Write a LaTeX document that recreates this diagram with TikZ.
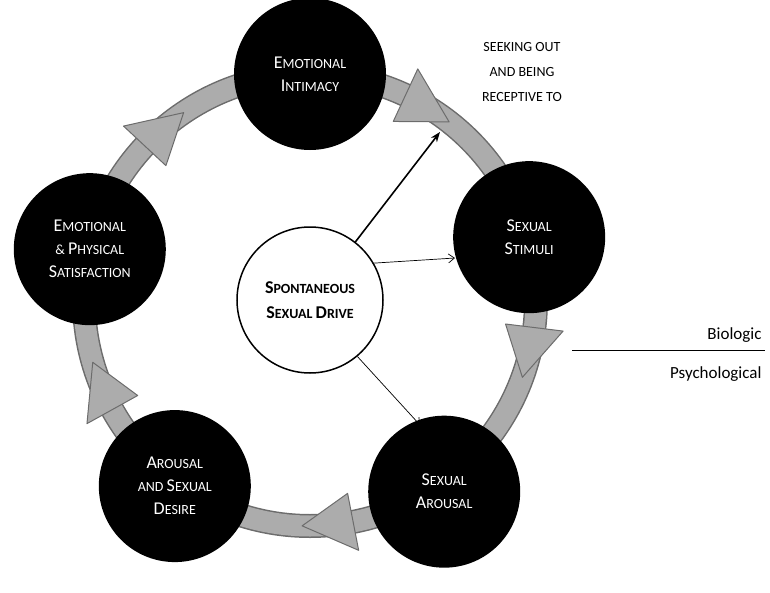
\documentclass[tikz,border=0pt]{standalone}
\usepackage{fontspec}
\setmainfont{Carlito}
\usetikzlibrary{arrows.meta}
\newcommand\bigc[1]{{\fontsize{18}{23}\selectfont #1}}
\newcommand\smc[1]{{\fontsize{14}{23}\selectfont #1}}
\begin{document}
\begin{tikzpicture}[x=1pt,y=1pt,
  stage/.style={circle,fill=black,minimum size=152pt,inner sep=0pt,text=white,align=center,font=\fontsize{14}{23}\selectfont},
  tri/.style={fill=gray!65,draw=gray!85!black,line width=1pt,line join=round}]
\useasboundingbox (-310,-292) rectangle (460,300);
\draw[gray!85!black,line width=24pt] (0,0) circle (226);
\draw[gray!65,line width=21pt] (0,0) circle (226);
\foreach \a in {60,-12,-84,-156,-228}{
  \draw[tri] ({\a-8}:226) -- ({\a+5}:197) -- ({\a+5}:255) -- cycle;}
\node[stage] (ei) at (90:226) {\bigc{E}\smc{MOTIONAL}\\\bigc{I}\smc{NTIMACY}};
\node[stage] (ss) at (16:228) {\bigc{S}\smc{EXUAL}\\\bigc{S}\smc{TIMULI}};
\node[stage] (sa) at (-55:234) {\bigc{S}\smc{EXUAL}\\\bigc{A}\smc{ROUSAL}};
\node[stage] (ad) at (-126:230) {\bigc{A}\smc{ROUSAL}\\\smc{AND} \bigc{S}\smc{EXUAL}\\\bigc{D}\smc{ESIRE}};
\node[stage] (ep) at (167:226) {\bigc{E}\smc{MOTIONAL}\\\smc{\&} \bigc{P}\smc{HYSICAL}\\\bigc{S}\smc{ATISFACTION}};
\node[circle,draw=black,line width=1.5pt,fill=white,minimum size=146pt,align=center,font=\fontsize{14}{25}\selectfont\bfseries] (sd) at (0,0)
  {\bigc{S}\smc{PONTANEOUS}\\\bigc{S}\smc{EXUAL} \bigc{D}\smc{RIVE}};
\node[align=center,font=\fontsize{14}{25}\selectfont] (seek) at (212,228) {SEEKING OUT\\AND BEING\\RECEPTIVE TO};
\coordinate (t1) at (130,168);
\coordinate (t2) at (145,42);
\coordinate (t3) at (110,-125);
\draw[-{Stealth[length=10pt]},line width=1.6pt] (sd.52) -- (t1);
\draw[-{Straight Barb[length=6pt,width=9pt]},line width=0.7pt] (sd.30) -- (t2);
\draw[-{Straight Barb[length=6pt,width=9pt]},line width=0.7pt] (sd.-50) -- (t3);
\coordinate (l1) at (262,-50);
\coordinate (l2) at (455,-50);
\draw[line width=0.8pt] (l1) -- (l2);
\node[anchor=east,font=\fontsize{17}{20}\selectfont] (bio) at (455,-35) {Biologic};
\node[anchor=east,font=\fontsize{17}{20}\selectfont] (psy) at (455,-74) {Psychological};
\end{tikzpicture}
\end{document}
